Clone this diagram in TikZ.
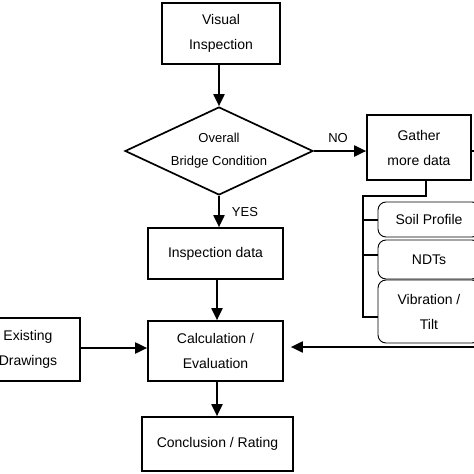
\documentclass[tikz,border=0pt]{standalone}
\usepackage{fontspec}
\setmainfont{Liberation Sans}
\usetikzlibrary{shapes.geometric,arrows.meta}
\begin{document}
\begin{tikzpicture}[x=1pt,y=-1pt,
  box/.style={draw,line width=1.7pt,inner sep=0pt,align=center,font=\fontsize{14}{25}\selectfont},
  sub/.style={draw,line width=0.9pt,rounded corners=8pt,inner sep=0pt,align=center,font=\fontsize{14}{25}\selectfont,minimum width=102pt},
  flow/.style={line width=2pt,-{Triangle[length=12pt,width=11pt]}},
  link/.style={line width=2pt},
  lbl/.style={font=\fontsize{13}{14}\selectfont,inner sep=0pt}]
\useasboundingbox (0,0) rectangle (474,474);
\clip (0,0) rectangle (474,474);
\node[box,minimum width=118pt,minimum height=61pt] (vis) at (221,33.5) {Visual\\Inspection};
\node[draw,line width=1.7pt,diamond,aspect=2.14,inner sep=0pt,minimum width=188pt,minimum height=88pt,align=center,font=\fontsize{13}{23}\selectfont] (dia) at (219,151) {Overall\\Bridge Condition};
\node[box,minimum width=104pt,minimum height=65pt] (gather) at (419,147.5) {Gather\\more data};
\node[sub,minimum height=35pt] (soil) at (429,219.5) {Soil Profile};
\node[sub,minimum height=39pt] (ndt) at (429,259.5) {NDTs};
\node[sub,minimum height=63pt] (vib) at (429,311.5) {Vibration /\\Tilt};
\node[box,minimum width=135pt,minimum height=51pt] (insp) at (215.5,253.5) {Inspection data};
\node[box,minimum width=135pt,minimum height=60pt] (calc) at (215.5,351) {Calculation /\\Evaluation};
\node[box,minimum width=104pt,minimum height=63pt] (exist) at (28,349.5) {Existing\\Drawings};
\node[box,minimum width=151pt,minimum height=54pt] (concl) at (217.5,444) {Conclusion / Rating};
\node[lbl] (no) at (338,138) {NO};
\node[lbl] (yes) at (245,212) {YES};
\coordinate (bustop) at (363,196);
\coordinate (busbot) at (363,317);
\coordinate (fbtop) at (495,151);
\coordinate (fbbot) at (495,347);
% connectors
\draw[flow] (vis.south -| dia.north) -- (dia.north);
\draw[flow] (dia.east) -- (dia.east -| gather.west);
\draw[flow] (dia.south) -- (dia.south |- insp.north);
\draw[flow] ([xshift=1.5pt]insp.south) -- ([xshift=1.5pt]calc.north);
\draw[flow] ([xshift=1.5pt]calc.south) -- ([xshift=1.5pt]calc.south |- concl.north);
\draw[flow] (exist.east |- 0,348) -- (calc.west |- 0,348);
\draw[link] ([xshift=7pt]gather.south) |- (bustop) -- (busbot) -- (busbot -| vib.west);
\draw[link] (bustop |- soil.west) -- (soil.west);
\draw[link] (363,255) -- (ndt.west |- 0,255);
\draw[flow,shorten >=7pt] (gather.east |- fbtop) -- (fbtop) -- (fbbot) -- (calc.east |- fbbot);
\end{tikzpicture}
\end{document}
